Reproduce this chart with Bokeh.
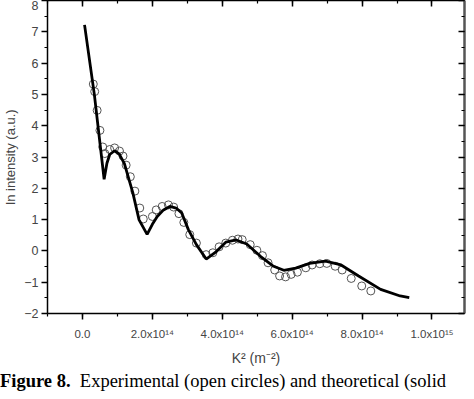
from bokeh.plotting import figure
from bokeh.models import LinearAxis, SingleIntervalTicker, Range1d, Div
from bokeh.layouts import column
from bokeh.embed import file_html
from bokeh.resources import INLINE

# Theoretical curve (solid line), K^2 in units of 1e14 m^-2
theory_k2 = [0.06, 0.34, 0.62, 0.70, 0.78, 0.92, 1.05, 1.20, 1.44, 1.62, 1.85, 2.00, 2.14, 2.32,
             2.50, 2.68, 2.84, 3.03, 3.26, 3.54, 3.80, 4.10, 4.40, 4.70, 5.10, 5.45, 5.76,
             6.10, 6.50, 6.95, 7.40, 7.90, 8.53, 9.09, 9.35]
theory_ln = [7.22, 5.00, 2.29, 2.80, 3.08, 3.20, 3.10, 2.79, 1.86, 0.99, 0.53, 0.85, 1.10, 1.31,
             1.42, 1.37, 1.21, 0.68, 0.20, -0.26, -0.05, 0.28, 0.35, 0.22, -0.18, -0.48, -0.62,
             -0.55, -0.40, -0.33, -0.45, -0.80, -1.23, -1.44, -1.49]

# Experimental data (open circles)
exp_k2 = [0.31, 0.35, 0.42, 0.50, 0.58, 0.64, 0.78, 0.92, 1.06, 1.16, 1.25, 1.37, 1.50,
          1.64, 1.74, 2.00, 2.11, 2.28, 2.46, 2.61, 2.76, 2.90, 3.07, 3.26, 3.54, 3.73,
          3.91, 4.10, 4.29, 4.45, 4.57, 4.80, 4.99, 5.15, 5.31, 5.50, 5.64, 5.81, 5.97,
          6.15, 6.39, 6.57, 6.79, 6.99, 7.23, 7.43, 7.69, 7.99, 8.25]
exp_ln = [5.33, 5.09, 4.49, 3.85, 3.32, 3.11, 3.24, 3.29, 3.19, 3.03, 2.74, 2.37, 1.91,
          1.37, 1.02, 1.10, 1.31, 1.42, 1.47, 1.40, 1.19, 0.91, 0.52, 0.25, -0.12, -0.06,
          0.13, 0.25, 0.34, 0.38, 0.36, 0.20, 0.02, -0.15, -0.38, -0.61, -0.80, -0.83, -0.75,
          -0.68, -0.54, -0.45, -0.41, -0.40, -0.49, -0.61, -0.88, -1.12, -1.28]

x_tick_values = [0, 2e14, 4e14, 6e14, 8e14, 1e15]
x_tick_labels = ["0.0", "2.0x10¹⁴", "4.0x10¹⁴", "6.0x10¹⁴", "8.0x10¹⁴", "1.0x10¹⁵"]

caption_bold = "Figure 8."
caption_text = "Experimental (open circles) and theoretical (solid"

scale = 1e14
tx = [v * scale for v in theory_k2]
ex = [v * scale for v in exp_k2]

p = figure(width=466, height=368, output_backend="svg", toolbar_location=None,
           x_range=Range1d(-1e14, 1.093e15), y_range=Range1d(-2, 8),
           x_axis_type=None, y_axis_type=None,
           min_border_left=38, min_border_right=2, min_border_top=0, min_border_bottom=55)
p.outline_line_color = None
p.xgrid.visible = False
p.ygrid.visible = False
p.background_fill_color = "white"
p.border_fill_color = "white"

FONT = "Liberation Sans"

def style_axis(ax, outward, labels):
    ax.axis_line_color = "black"
    ax.axis_line_width = 1.5
    ax.major_tick_line_width = 1.5
    ax.minor_tick_line_width = 1.2
    if outward:
        ax.major_tick_out = 6
        ax.major_tick_in = 0
        ax.minor_tick_out = 3
        ax.minor_tick_in = 0
    else:
        ax.major_tick_out = 0
        ax.major_tick_in = 6
        ax.minor_tick_out = 0
        ax.minor_tick_in = 3
    if not labels:
        ax.major_label_text_font_size = "0px"
        ax.major_label_text_color = None

xb = LinearAxis(ticker=SingleIntervalTicker(interval=2e14, num_minor_ticks=2))
style_axis(xb, True, True)
xb.major_label_overrides = {k: v for k, v in zip(x_tick_values, x_tick_labels)}
xb.major_label_text_font = FONT
xb.major_label_text_font_size = "11.5px"
xb.major_label_standoff = 8
xb.axis_label = "K² (m⁻²)"
xb.axis_label_text_font = FONT
xb.axis_label_text_font_style = "normal"
xb.axis_label_text_font_size = "14px"
xb.axis_label_standoff = 7
p.add_layout(xb, "below")

xt = LinearAxis(ticker=SingleIntervalTicker(interval=2e14, num_minor_ticks=2))
style_axis(xt, False, False)
p.add_layout(xt, "above")

yl = LinearAxis(ticker=SingleIntervalTicker(interval=1, num_minor_ticks=2))
style_axis(yl, True, True)
yl.major_label_text_font = FONT
yl.major_label_text_font_size = "12.5px"
yl.major_label_standoff = 3
yl.axis_label = "ln intensity (a.u.)"
yl.axis_label_text_font = FONT
yl.axis_label_text_font_style = "normal"
yl.axis_label_text_font_size = "13px"
yl.axis_label_standoff = 3
p.add_layout(yl, "left")

yr = LinearAxis(ticker=SingleIntervalTicker(interval=1, num_minor_ticks=2))
style_axis(yr, False, False)
yr.axis_line_color = "#555555"
yr.axis_line_width = 2.5
p.add_layout(yr, "right")

p.scatter(ex, exp_ln, marker="circle", size=8, fill_color=None,
          line_color="#555555", line_width=1)
p.line(tx, theory_ln, line_color="black", line_width=2.8)

cap = Div(text=f"<b>{caption_bold}</b>&nbsp; {caption_text}", width=466, height=22,
          margin=(3, 0, 0, 0),
          styles={"font-family": "Liberation Serif", "font-size": "18.5px",
                  "white-space": "nowrap", "color": "black", "line-height": "20px"})

layout = column(p, cap, spacing=0)
open("out.html", "w").write(file_html(layout, INLINE))
